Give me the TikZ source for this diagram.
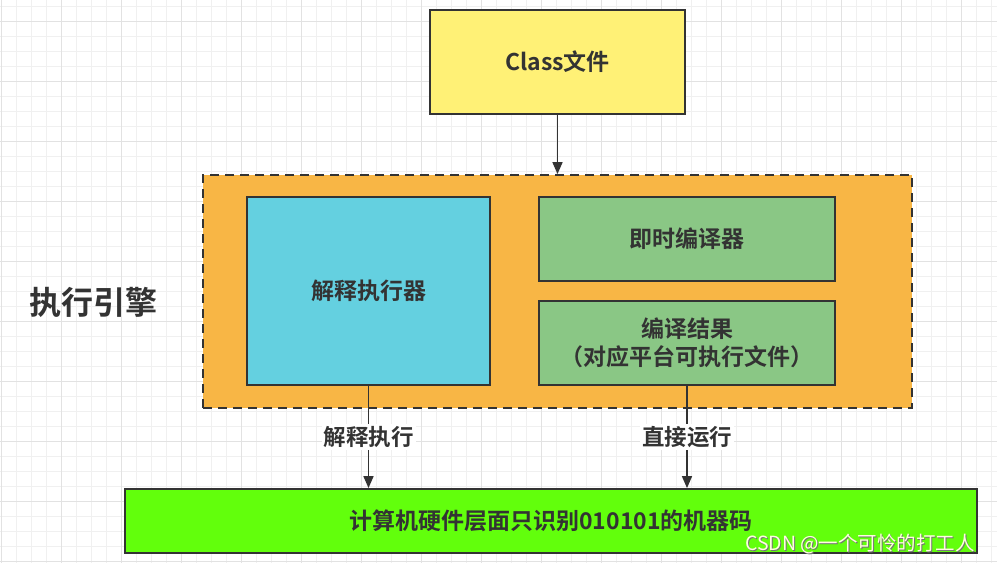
\documentclass[tikz,border=0pt]{standalone}
\usepackage{fontspec}
\setmainfont{Noto Sans CJK SC}[BoldFont={Noto Sans CJK SC Bold}]
\newfontfamily\cjkb{Noto Sans CJK SC Bold}
\newfontfamily\cjkr{Noto Sans CJK SC}
\usetikzlibrary{arrows.meta}
\definecolor{gridminor}{HTML}{F0F0F0}
\definecolor{gridmajor}{HTML}{E2E2E2}
\definecolor{ink}{HTML}{333333}
\definecolor{yel}{HTML}{FFF176}
\definecolor{orng}{HTML}{F8B645}
\definecolor{blu}{HTML}{64D0E0}
\definecolor{grn}{HTML}{8AC785}
\definecolor{lime}{HTML}{62FF0C}
\tikzset{
  box/.style={draw=ink, line width=1.8pt, inner sep=0pt, font=\cjkb\fontsize{23}{28}\selectfont, text=ink, align=center},
  conn/.style={draw=ink, line width=1.6pt, -{Triangle[length=12pt,width=10pt]}},
  lbl/.style={fill=white, inner sep=2pt, font=\cjkb\fontsize{22.5}{26}\selectfont, text=ink}
}
\begin{document}
\begin{tikzpicture}[x=1pt,y=-1pt]
\useasboundingbox (0,0) rectangle (997,563);
\fill[white] (0,0) rectangle (997,563);
% grid
\foreach \x in {1,16,...,997} \draw[gridminor, line width=0.8pt] (\x,0) -- (\x,563);
\foreach \y in {6,21,...,563} \draw[gridminor, line width=0.8pt] (0,\y) -- (997,\y);
\foreach \x in {1,61,...,997} \draw[gridmajor, line width=0.8pt] (\x,0) -- (\x,563);
\foreach \y in {21,81,...,563} \draw[gridmajor, line width=0.8pt] (0,\y) -- (997,\y);

\node[box, fill=yel, minimum width=255pt, minimum height=104pt] (cls) at (557.5,62) {Class文件};
\node[box, fill=orng, dashed, dash pattern=on 9pt off 6pt, minimum width=709pt, minimum height=233pt] (eng) at (557.5,291.5) {};
\node[box, fill=blu, minimum width=243pt, minimum height=188pt] (interp) at (368.5,291) {解释执行器};
\node[box, fill=grn, minimum width=296pt, minimum height=84pt] (jit) at (687,239) {即时编译器};
\node[box, fill=grn, minimum width=296pt, minimum height=84pt] (res) at (687,343) {编译结果\\（对应平台可执行文件）};
\node[box, fill=lime, minimum width=852pt, minimum height=64pt] (hw) at (551,521) {计算机硬件层面只识别010101的机器码};
\node[font=\cjkb\fontsize{32}{36}\selectfont, text=ink] (title) at (94,302) {执行引擎};

\draw[conn] (cls.south) -- (eng.north);
\draw[conn] (interp.south) -- (interp.south |- hw.north) node[lbl, pos=0.5] {解释执行};
\draw[conn] (res.south) -- (res.south |- hw.north) node[lbl, pos=0.5] {直接运行};

\node[font=\cjkr\fontsize{19.5}{22}\selectfont, text=black!55, anchor=east] (wm0) at (979.5,544.5) {CSDN @一个可怜的打工人};
\node[font=\cjkr\fontsize{19.5}{22}\selectfont, text=white!88!yellow, anchor=east] (wm) at (978.5,543.5) {CSDN @一个可怜的打工人};
\end{tikzpicture}
\end{document}
